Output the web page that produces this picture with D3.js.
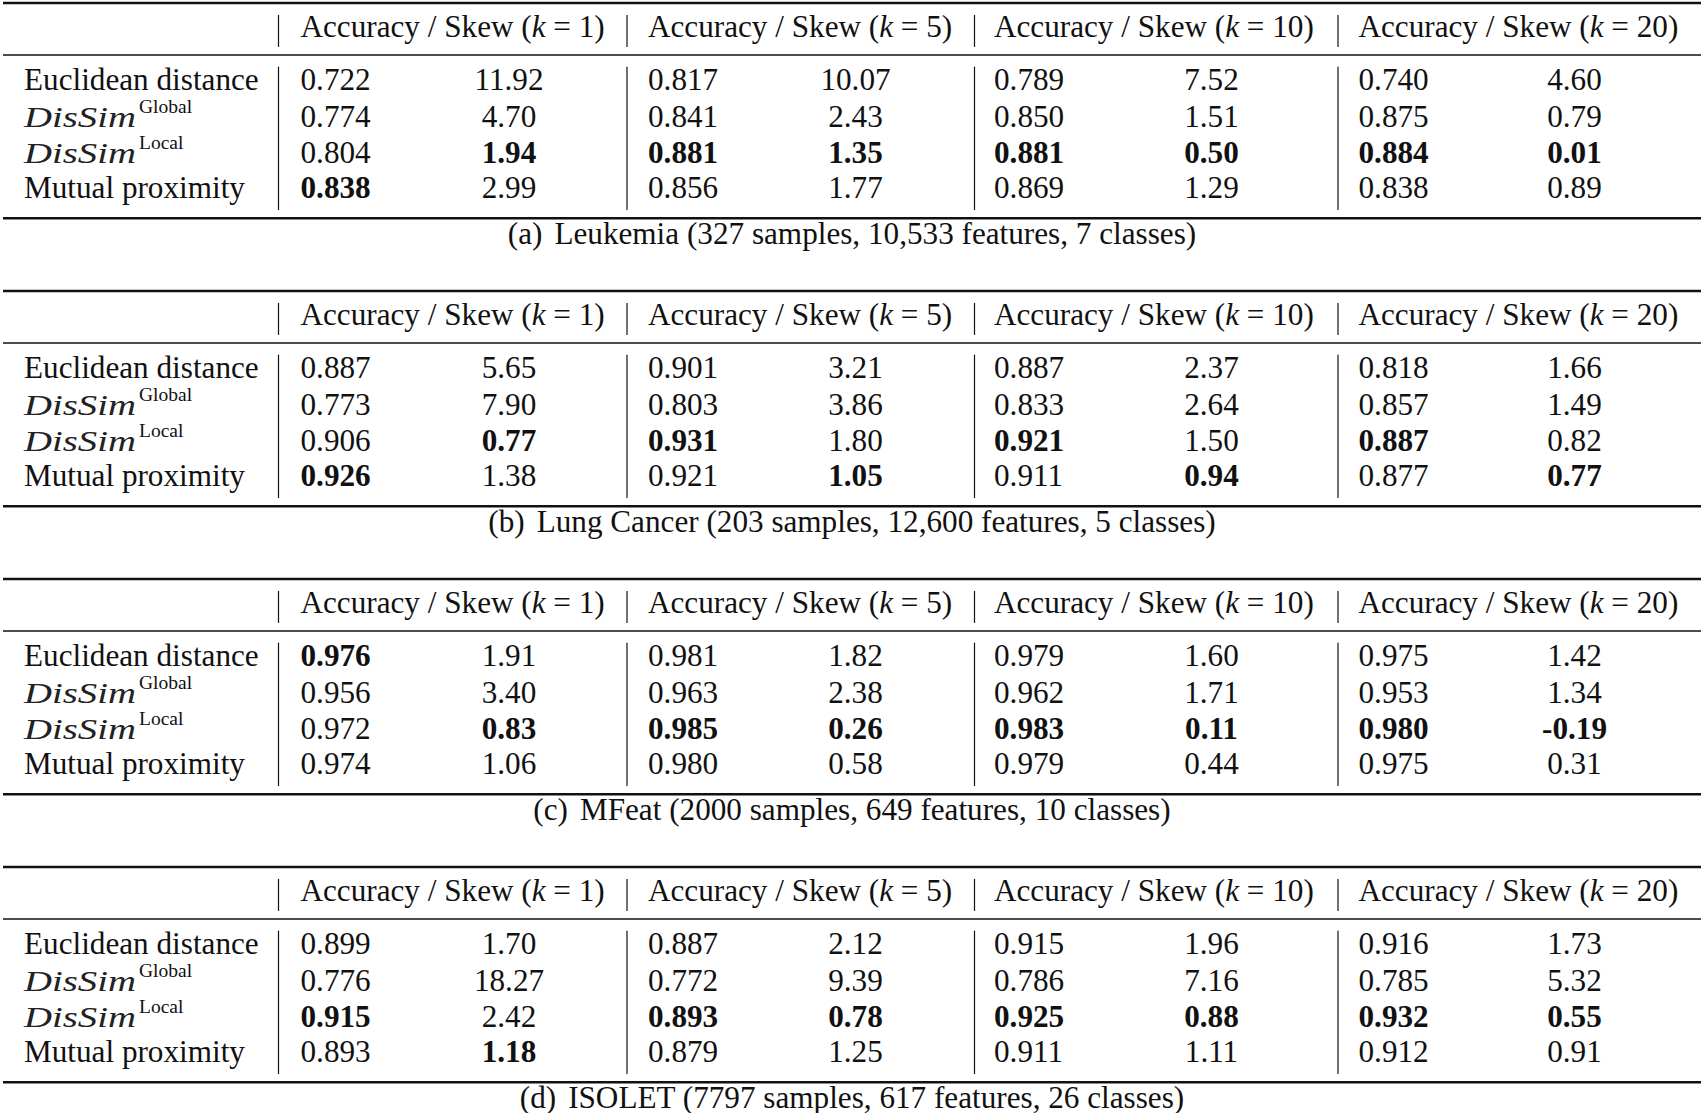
<!DOCTYPE html>
<html>
<head>
<meta charset="utf-8">
<script src="https://cdn.jsdelivr.net/npm/d3@7"></script>
<style>
  html, body { margin: 0; padding: 0; background: #fff; }
  svg text { font-family: "Liberation Serif", "Times New Roman", serif; fill: #111; }
</style>
</head>
<body>
<svg id="chart"></svg>
<script>
// table content
const kValues = [1, 5, 10, 20];
const methods = ["Euclidean distance", "DisSim|Global", "DisSim|Local", "Mutual proximity"];
const captionLabels = ["(a)", "(b)", "(c)", "(d)"];
const captions = [
    "Leukemia (327 samples, 10,533 features, 7 classes)",
    "Lung Cancer (203 samples, 12,600 features, 5 classes)",
    "MFeat (2000 samples, 649 features, 10 classes)",
    "ISOLET (7797 samples, 617 features, 26 classes)"
];

// rows = methods, columns = k
const leukemiaAccuracy = [[0.722, 0.817, 0.789, 0.740], [0.774, 0.841, 0.850, 0.875], [0.804, 0.881, 0.881, 0.884], [0.838, 0.856, 0.869, 0.838]];
const leukemiaSkew = [[11.92, 10.07, 7.52, 4.60], [4.70, 2.43, 1.51, 0.79], [1.94, 1.35, 0.50, 0.01], [2.99, 1.77, 1.29, 0.89]];
const lungAccuracy = [[0.887, 0.901, 0.887, 0.818], [0.773, 0.803, 0.833, 0.857], [0.906, 0.931, 0.921, 0.887], [0.926, 0.921, 0.911, 0.877]];
const lungSkew = [[5.65, 3.21, 2.37, 1.66], [7.90, 3.86, 2.64, 1.49], [0.77, 1.80, 1.50, 0.82], [1.38, 1.05, 0.94, 0.77]];
const mfeatAccuracy = [[0.976, 0.981, 0.979, 0.975], [0.956, 0.963, 0.962, 0.953], [0.972, 0.985, 0.983, 0.980], [0.974, 0.980, 0.979, 0.975]];
const mfeatSkew = [[1.91, 1.82, 1.60, 1.42], [3.40, 2.38, 1.71, 1.34], [0.83, 0.26, 0.11, -0.19], [1.06, 0.58, 0.44, 0.31]];
const isoletAccuracy = [[0.899, 0.887, 0.915, 0.916], [0.776, 0.772, 0.786, 0.785], [0.915, 0.893, 0.925, 0.932], [0.893, 0.879, 0.911, 0.912]];
const isoletSkew = [[1.70, 2.12, 1.96, 1.73], [18.27, 9.39, 7.16, 5.32], [2.42, 0.78, 0.88, 0.55], [1.18, 1.25, 1.11, 0.91]];

const accuracyTables = [leukemiaAccuracy, lungAccuracy, mfeatAccuracy, isoletAccuracy];
const skewTables = [leukemiaSkew, lungSkew, mfeatSkew, isoletSkew];

const width = 1704, height = 1113;
const fontSize = 31.2;

const svg = d3.select("#chart")
    .attr("width", width)
    .attr("height", height);

svg.append("rect").attr("width", width).attr("height", height).attr("fill", "#fff");

// layout scales
const tableY = d3.scaleLinear().domain([0, 1]).range([3, 291]);
const sepX = d3.scaleOrdinal().domain(kValues).range([278.5, 627, 974.5, 1338]);
const accX = d3.scaleOrdinal().domain(kValues).range([300.5, 648, 994, 1358.5]);
const skewX = d3.scaleOrdinal().domain(kValues).range([509, 855.5, 1211.5, 1574.5]);
const rowY = d3.scaleOrdinal().domain(methods).range([87, 123.7, 160.3, 195.3]);
const ruleX = [3, 1701];

const fmtAcc = v => v.toFixed(3);
const fmtSkew = v => v.toFixed(2);

accuracyTables.forEach((accTable, t) => {
    const skewTable = skewTables[t];
    const g = svg.append("g").attr("transform", `translate(0,${tableY(t)})`);

    // best values per column: highest accuracy, skew closest to zero
    const bestAcc = kValues.map((k, j) => d3.max(accTable, r => r[j]));
    const bestSkew = kValues.map((k, j) => d3.min(skewTable, r => Math.abs(r[j])));

    // rules
    g.append("line").attr("x1", ruleX[0]).attr("x2", ruleX[1]).attr("y1", 0).attr("y2", 0)
        .attr("stroke", "#111").attr("stroke-width", 2.6);
    g.append("line").attr("x1", ruleX[0]).attr("x2", ruleX[1]).attr("y1", 52).attr("y2", 52)
        .attr("stroke", "#111").attr("stroke-width", 1.3);
    g.append("line").attr("x1", ruleX[0]).attr("x2", ruleX[1]).attr("y1", 215.3).attr("y2", 215.3)
        .attr("stroke", "#111").attr("stroke-width", 2.6);

    // vertical separators
    g.selectAll(".vhead")
        .data(kValues)
        .enter()
        .append("line")
        .attr("x1", d => sepX(d)).attr("x2", d => sepX(d))
        .attr("y1", 12).attr("y2", 44)
        .attr("stroke", "#111").attr("stroke-width", 1.2);
    g.selectAll(".vbody")
        .data(kValues)
        .enter()
        .append("line")
        .attr("x1", d => sepX(d)).attr("x2", d => sepX(d))
        .attr("y1", 63.7).attr("y2", 207)
        .attr("stroke", "#111").attr("stroke-width", 1.2);

    // header
    const head = g.selectAll(".head")
        .data(kValues)
        .enter()
        .append("text")
        .attr("x", d => accX(d))
        .attr("y", 33.7)
        .attr("font-size", fontSize);
    head.append("tspan").text("Accuracy / Skew (");
    head.append("tspan").attr("font-style", "italic").text("k");
    head.append("tspan").text(d => ` = ${d})`);

    // row labels
    methods.forEach(m => {
        if (m.startsWith("DisSim")) {
            const sup = m.split("|")[1];
            g.append("text")
                .attr("x", 24)
                .attr("y", rowY(m))
                .attr("font-size", 30)
                .attr("font-style", "italic")
                .attr("textLength", 112)
                .attr("lengthAdjust", "spacingAndGlyphs")
                .style("fill", "#222")
                .text("DisSim");
            g.append("text")
                .attr("x", 139)
                .attr("y", rowY(m) - 14)
                .attr("font-size", 19.5)
                .text(sup);
        } else {
            g.append("text")
                .attr("x", 24)
                .attr("y", rowY(m))
                .attr("font-size", fontSize)
                .text(m);
        }
    });

    // cells
    methods.forEach((m, i) => {
        g.selectAll(null)
            .data(kValues)
            .enter()
            .append("text")
            .attr("x", d => accX(d))
            .attr("y", rowY(m))
            .attr("font-size", fontSize)
            .attr("font-weight", (d, j) => accTable[i][j] === bestAcc[j] ? "bold" : "normal")
            .text((d, j) => fmtAcc(accTable[i][j]));
        g.selectAll(null)
            .data(kValues)
            .enter()
            .append("text")
            .attr("x", d => skewX(d))
            .attr("y", rowY(m))
            .attr("text-anchor", "middle")
            .attr("font-size", fontSize)
            .attr("font-weight", (d, j) => Math.abs(skewTable[i][j]) === bestSkew[j] ? "bold" : "normal")
            .text((d, j) => fmtSkew(skewTable[i][j]));
    });

    // caption
    const cap = g.append("text")
        .attr("x", (ruleX[0] + ruleX[1]) / 2)
        .attr("y", 240.5)
        .attr("text-anchor", "middle")
        .attr("font-size", fontSize);
    cap.append("tspan").text(captionLabels[t]);
    cap.append("tspan").attr("dx", 12).text(captions[t]);
});
</script>
</body>
</html>
